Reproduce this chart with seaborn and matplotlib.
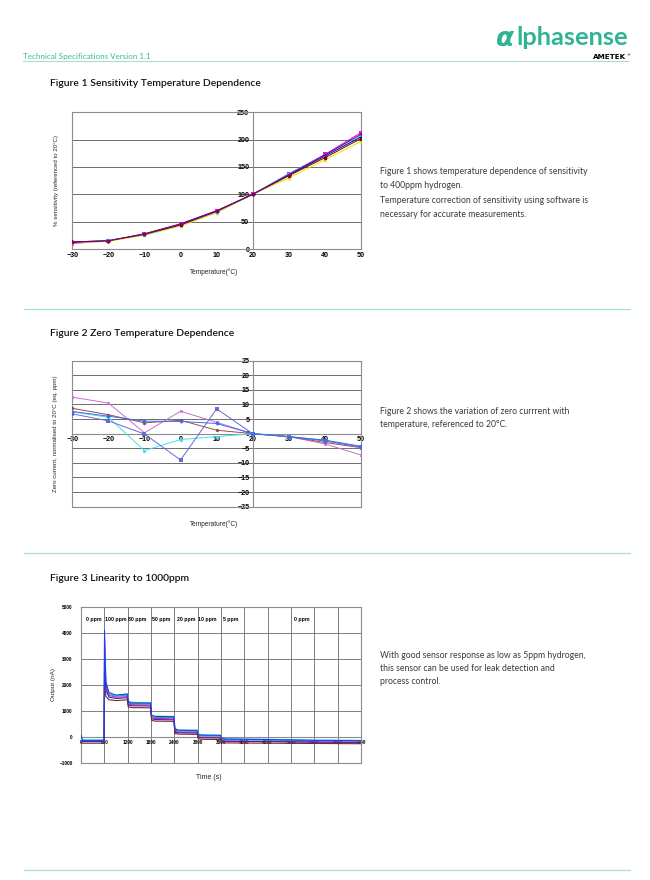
import matplotlib
matplotlib.use('Agg')
import matplotlib.pyplot as plt
from matplotlib.lines import Line2D
import seaborn as sns
import pandas as pd

# ---------------- data ----------------
temps = [-30, -20, -10, 0, 10, 20, 30, 40, 50]

# Figure 1: % sensitivity referenced to 20 C
sens_navy    = [13, 15, 27, 45, 69, 100, 135, 170, 205]
sens_magenta = [10, 15, 27, 46, 70, 100, 137, 173, 213]
sens_yellow  = [11, 14, 25, 42, 66, 100, 130, 163, 197]
sens_cyan    = [12, 16, 26, 44, 68, 100, 138, 172, 208]
sens_darkred = [13, 15, 27, 44, 69, 100, 134, 167, 202]
sens_purple  = [12, 15, 28, 46, 70, 100, 136, 172, 210]

# Figure 2: zero current normalised to 20 C (eq. ppm)
zero_violet  = [12.5, 10.5, 0.3, 7.7, 3.9, 0, -1.0, -3.5, -7.3]
zero_darkred = [8.7, 6.5, 3.7, 4.6, 1.2, 0, -1.0, -3.0, -4.8]
zero_cyan    = [7.5, 5.6, -5.8, -2.0, -1.0, 0, -1.0, -2.3, -4.5]
zero_slate   = [6.8, 4.4, -0.1, -9.0, 8.5, 0, -1.0, -2.5, -4.6]
zero_blue    = [7.6, 6.0, 4.3, 4.2, 3.5, 0, -1.0, -2.2, -4.3]

# Figure 3: output (nA) vs time (s)
time_s = [0, 40, 595, 605, 640, 720, 900, 1190, 1215, 1300, 1790, 1815, 1900,
          2390, 2415, 2500, 2990, 3015, 3100, 3590, 3615, 3700, 4800, 6000, 7200]
out_blue    = [80, -150, -150, 4100, 2100, 1700, 1600, 1640, 1350, 1300, 1290, 820, 780,
               770, 300, 250, 240, 80, 60, 50, -70, -90, -110, -140, -150]
out_cyan    = [-100, -120, -120, 3000, 2000, 1650, 1580, 1650, 1360, 1320, 1310, 830, 790,
               780, 320, 260, 250, 100, 70, 60, -60, -80, -100, -130, -140]
out_green   = [-130, -140, -140, 2500, 1900, 1620, 1560, 1600, 1300, 1270, 1260, 770, 740,
               730, 260, 220, 210, 50, 30, 20, -90, -110, -130, -150, -160]
out_magenta = [-180, -190, -190, 3800, 2000, 1580, 1520, 1540, 1260, 1230, 1220, 730, 700,
               690, 210, 180, 170, 0, -20, -30, -140, -160, -180, -200, -210]
out_navy    = [-170, -180, -180, 2900, 1800, 1520, 1470, 1500, 1220, 1190, 1180, 690, 660,
               650, 170, 150, 140, -20, -40, -50, -160, -180, -190, -210, -220]
out_darkred = [-230, -250, -250, 2000, 1550, 1420, 1390, 1420, 1150, 1120, 1110, 630, 600,
               590, 120, 100, 90, -80, -100, -110, -220, -240, -250, -260, -270]

ppm_labels = ["0 ppm", "100 ppm", "80 ppm", "50 ppm", "20 ppm", "10 ppm", "5 ppm", "0 ppm"]
ppm_times = [120, 617, 1210, 1826, 2470, 3010, 3640, 5480]

fig1_ticks_y = [0, 50, 100, 150, 200, 250]
fig2_ticks_y = [-25, -20, -15, -10, -5, 0, 5, 10, 15, 20, 25]
fig3_ticks_x = [0, 600, 1200, 1800, 2400, 3000, 3600, 4200, 4800, 5400, 6000, 6600, 7200]
fig3_ticks_y = [-1000, 0, 1000, 2000, 3000, 4000, 5000]

# ---------------- style ----------------
sns.set_theme(style='white')
plt.rcParams['font.family'] = ['Liberation Sans', 'DejaVu Sans']

W, H = 650, 880
TEAL = '#3bb99c'
TEXT = '#3a3a3a'
GRID = '#555555'
BORDER = '#8c8c8c'

fig = plt.figure(figsize=(6.5, 8.8), dpi=100)
fig.patch.set_facecolor('white')


def px_axes(x0, y0, x1, y1):
    return fig.add_axes([x0 / W, 1 - y1 / H, (x1 - x0) / W, (y1 - y0) / H])


def ftext(x, y, s, **kw):
    fig.text(x / W, 1 - y / H, s, **kw)


def hline(x0, x1, y, **kw):
    fig.add_artist(Line2D([x0 / W, x1 / W], [1 - y / H, 1 - y / H], **kw))


def bold_ticks(ax):
    for lbl in ax.get_xticklabels() + ax.get_yticklabels():
        lbl.set_fontweight('bold')


# ---------------- page header ----------------
ftext(23, 56.5, "Technical Specifications Version 1.1", color=TEAL, fontsize=5.8,
      family=['Lato', 'DejaVu Sans'], va='center', ha='left')
hline(23, 628, 61.5, color='#a8dccf', lw=0.8)
ftext(514, 38.5, "α", color='#2fb394', fontsize=19, fontstyle='oblique', fontweight='bold',
      family=['DejaVu Sans'], va='center', ha='right')
ftext(628, 37.5, "lphasense", color='#2fb394', fontsize=18.3, fontweight='bold',
      family=['Lato', 'DejaVu Sans'], va='center', ha='right')
ftext(626, 57, "AMETEK", color='black', fontsize=5.2, fontweight='heavy',
      family=['DejaVu Sans'], va='center', ha='right')
ftext(626.3, 55, "®", color='black', fontsize=2.8, family=['DejaVu Sans'], va='center', ha='left')

title_kw = dict(fontsize=7.45, fontweight='semibold', color='#111111',
                family=['Lato', 'DejaVu Sans'], va='center', ha='left')
body_kw = dict(fontsize=6.2, color=TEXT, family=['Lato', 'DejaVu Sans'], va='center', ha='left')

ftext(50, 84, "Figure 1 Sensitivity Temperature Dependence", **title_kw)
ftext(50, 334, "Figure 2 Zero Temperature Dependence", **title_kw)
ftext(50, 578, "Figure 3 Linearity to 1000ppm", **title_kw)

ftext(380, 171, "Figure 1 shows temperature dependence of sensitivity", **body_kw)
ftext(380, 185, "to 400ppm hydrogen.", **body_kw)
ftext(380, 200.5, "Temperature correction of sensitivity using software is", **body_kw)
ftext(380, 214.5, "necessary for accurate measurements.", **body_kw)

ftext(380, 411, "Figure 2 shows the variation of zero currrent with", **body_kw)
ftext(380, 424.5, "temperature, referenced to 20°C.", **body_kw)

ftext(380, 655.5, "With good sensor response as low as 5ppm hydrogen,", **body_kw)
ftext(380, 668.5, "this sensor can be used for leak detection and", **body_kw)
ftext(380, 681.5, "process control.", **body_kw)

for yy in (309.5, 552.5, 870):
    hline(24, 630, yy, color='#a6e0d4', lw=0.9)

# ---------------- Figure 1 ----------------
ax1 = px_axes(72.3, 112.3, 361, 249)
df1 = pd.DataFrame({
    'temp': temps * 6,
    'value': sens_navy + sens_magenta + sens_yellow + sens_cyan + sens_darkred + sens_purple,
    'series': (['navy'] * 9 + ['magenta'] * 9 + ['yellow'] * 9 + ['cyan'] * 9
               + ['darkred'] * 9 + ['purple'] * 9),
})
pal1 = {'navy': '#000080', 'magenta': '#ff00ff', 'yellow': '#e8e000', 'cyan': '#00d8f0',
        'darkred': '#800000', 'purple': '#800080'}
sns.lineplot(data=df1, x='temp', y='value', hue='series', style='series', palette=pal1,
             markers=['D', 's', '^', 'X', 'o', 'P'], dashes=False, markersize=2.6,
             markeredgewidth=0, linewidth=0.7, legend=False, ax=ax1, zorder=3)
ax1.set_xlim(-30, 50)
ax1.set_ylim(0, 250)
ax1.set_xticks(temps)
ax1.set_yticks(fig1_ticks_y)
ax1.yaxis.grid(True, color=GRID, lw=0.6)
ax1.xaxis.grid(False)
ax1.spines['left'].set_position(('data', 20))
for s in ax1.spines.values():
    s.set_color(BORDER)
    s.set_linewidth(0.8)
ax1.axvline(-30, color=BORDER, lw=0.8, clip_on=False)
ax1.tick_params(axis='both', labelsize=5.1, length=0, pad=2.5, colors='black')
ax1.set_xlabel("Temperature(°C)", fontsize=4.7, labelpad=4)
ax1.set_ylabel("% sensitivity (referenced to 20°C)", fontsize=4.4)
ax1.yaxis.set_label_coords(-0.045, 0.5)
ax1.xaxis.set_label_coords(0.49, -0.14)
bold_ticks(ax1)

# ---------------- Figure 2 ----------------
ax2 = px_axes(72.3, 360.7, 361, 506.7)
df2 = pd.DataFrame({
    'temp': temps * 5,
    'value': zero_violet + zero_darkred + zero_cyan + zero_slate + zero_blue,
    'series': ['violet'] * 9 + ['darkred'] * 9 + ['cyan'] * 9 + ['slate'] * 9 + ['blue'] * 9,
})
pal2 = {'violet': '#c86ed0', 'darkred': '#a04848', 'cyan': '#40e0f0', 'slate': '#6a6ad0',
        'blue': '#3a6cf0'}
sns.lineplot(data=df2, x='temp', y='value', hue='series', style='series', palette=pal2,
             markers=['X', 'o', 'o', 's', 'D'], dashes=False, markersize=2.4,
             markeredgewidth=0, linewidth=0.7, legend=False, ax=ax2, zorder=3)
ax2.set_xlim(-30, 50)
ax2.set_ylim(-25, 25)
ax2.set_xticks(temps)
ax2.set_yticks(fig2_ticks_y)
ax2.yaxis.grid(True, color=GRID, lw=0.6)
ax2.xaxis.grid(False)
ax2.spines['left'].set_position(('data', 20))
ax2.spines['bottom'].set_position(('data', 0))
for s in ax2.spines.values():
    s.set_color(BORDER)
    s.set_linewidth(0.8)
ax2.axvline(-30, color=BORDER, lw=0.8, clip_on=False)
ax2.axhline(-25, color=BORDER, lw=0.8, clip_on=False)
ax2.tick_params(axis='both', labelsize=5.1, length=0, pad=2.0, colors='black')
ax2.set_xlabel("Temperature(°C)", fontsize=4.7)
ax2.set_ylabel("Zero current, normalised to 20°C (eq. ppm)", fontsize=4.4)
ax2.yaxis.set_label_coords(-0.048, 0.5)
ax2.xaxis.set_label_coords(0.49, -0.09)
bold_ticks(ax2)

# ---------------- Figure 3 ----------------
ax3 = px_axes(81, 606.7, 361, 762.7)
n3 = len(time_s)
df3 = pd.DataFrame({
    'time': time_s * 6,
    'value': out_green + out_cyan + out_magenta + out_navy + out_darkred + out_blue,
    'series': (['green'] * n3 + ['cyan'] * n3 + ['magenta'] * n3 + ['navy'] * n3
               + ['darkred'] * n3 + ['blue'] * n3),
})
pal3 = {'green': '#3aa060', 'cyan': '#20d0e8', 'magenta': '#d020e0', 'navy': '#303090',
        'darkred': '#802030', 'blue': '#2040f0'}
sns.lineplot(data=df3, x='time', y='value', hue='series', palette=pal3, linewidth=0.8,
             legend=False, ax=ax3, zorder=3)
ax3.set_xlim(0, 7200)
ax3.set_ylim(-1000, 5000)
ax3.set_xticks(fig3_ticks_x)
ax3.set_yticks(fig3_ticks_y)
ax3.grid(True, color='#6a6a6a', lw=0.6)
ax3.spines['bottom'].set_position(('data', 0))
for s in ax3.spines.values():
    s.set_color(BORDER)
    s.set_linewidth(0.8)
ax3.axhline(-1000, color=BORDER, lw=0.8, clip_on=False)
ax3.tick_params(axis='both', labelsize=3.4, length=0, colors='black')
ax3.tick_params(axis='x', pad=2.5)
ax3.tick_params(axis='y', pad=6)
ax3.set_xlabel("Time (s)", fontsize=5.0)
ax3.set_ylabel("Output (nA)", fontsize=4.6)
ax3.yaxis.set_label_coords(-0.09, 0.5)
ax3.xaxis.set_label_coords(0.455, -0.07)
bold_ticks(ax3)
for lab, t in zip(ppm_labels, ppm_times):
    ax3.text(t, 4500, lab, fontsize=3.7, fontweight='bold', ha='left', va='center',
             color='black', zorder=4)

fig.savefig('out.png', dpi=100, facecolor='white')
